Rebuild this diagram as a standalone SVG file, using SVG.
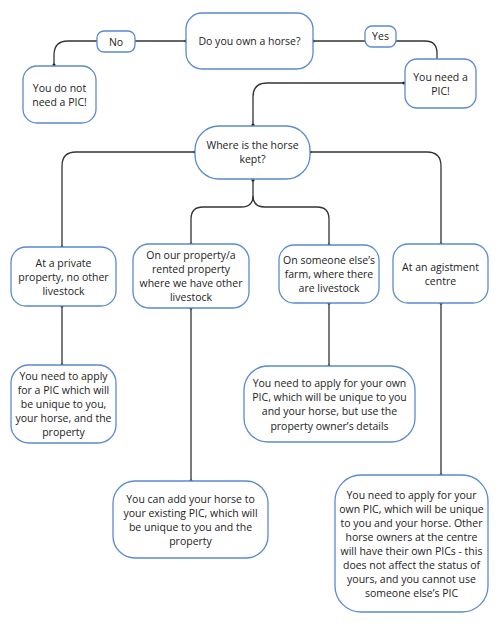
<svg xmlns="http://www.w3.org/2000/svg" width="500" height="636" viewBox="0 0 500 636">
<style>
.box{fill:#fff;stroke:#5b8ad2;stroke-width:1.3}
.t{font-family:"Open Sans","Noto Sans",sans-serif;font-size:10.5px;fill:#222;text-anchor:middle}
.ln{fill:none;stroke:#333;stroke-width:1.3}
.dot{fill:#222}
</style>
<rect width="500" height="636" fill="#fff"/>
<g id="connectors">
<path class="ln" d="M135,41 H186"/>
<path class="ln" d="M97,41 H68 Q54,41 54,55 V65"/>
<path class="ln" d="M313,41 H365"/>
<path class="ln" d="M396,41 H425 Q437,41 437,53 V59"/>
<path class="ln" d="M404,83 H267 Q253,83 253,97 V125"/>
<path class="ln" d="M195,152 H76 Q62,152 62,166 V247"/>
<path class="ln" d="M310,152 H427 Q441,152 441,166 V244"/>
<path class="ln" d="M253,180 V196 Q253,207 241,207 H203 Q191,207 191,219 V244"/>
<path class="ln" d="M253,196 Q253,207 265,207 H317 Q329,207 329,219 V245"/>
<path class="ln" d="M62,306 V365"/>
<path class="ln" d="M191,308 V481"/>
<path class="ln" d="M329,303 V366"/>
<path class="ln" d="M441,303 V475"/>
<g class="dot">
<circle cx="186" cy="41" r="1.6"/><circle cx="54" cy="65" r="1.6"/>
<circle cx="313" cy="41" r="1.6"/><circle cx="404" cy="83" r="1.6"/>
<circle cx="253" cy="125" r="1.6"/><circle cx="195" cy="152" r="1.6"/>
<circle cx="310" cy="152" r="1.6"/><circle cx="253" cy="180" r="1.6"/>
<circle cx="62" cy="247" r="1.6"/><circle cx="191" cy="244" r="1.6"/>
<circle cx="329" cy="245" r="1.6"/><circle cx="441" cy="244" r="1.6"/>
<circle cx="62" cy="306" r="1.6"/><circle cx="62" cy="365" r="1.6"/>
<circle cx="191" cy="308" r="1.6"/><circle cx="191" cy="481" r="1.6"/>
<circle cx="329" cy="303" r="1.6"/><circle cx="329" cy="366" r="1.6"/>
<circle cx="441" cy="303" r="1.6"/><circle cx="441" cy="475" r="1.6"/>
</g>
</g>
<g id="q-own">
<rect class="box" x="186" y="13" width="127" height="56" rx="16"/>
<text class="t" x="249.5" y="45">Do you own a horse?</text>
</g>
<g id="lbl-no">
<rect class="box" x="97" y="31" width="38" height="21" rx="7"/>
<text class="t" x="116" y="45.5">No</text>
</g>
<g id="lbl-yes">
<rect class="box" x="365" y="26" width="31" height="21" rx="7"/>
<text class="t" x="380.5" y="40">Yes</text>
</g>
<g id="no-pic">
<rect class="box" x="23" y="66" width="73" height="57" rx="14"/>
<text class="t" x="59.5" y="92">You do not</text>
<text class="t" x="59.5" y="106">need a PIC!</text>
</g>
<g id="need-pic">
<rect class="box" x="405" y="59" width="71" height="49" rx="12"/>
<text class="t" x="440.5" y="81">You need a</text>
<text class="t" x="440.5" y="95">PIC!</text>
</g>
<g id="q-where">
<rect class="box" x="195" y="126" width="115" height="53" rx="24"/>
<text class="t" x="252.5" y="149">Where is the horse</text>
<text class="t" x="252.5" y="163">kept?</text>
</g>
<g id="private">
<rect class="box" x="11" y="247" width="105" height="59" rx="15"/>
<text class="t" x="63.5" y="267">At a private</text>
<text class="t" x="63.5" y="281">property, no other</text>
<text class="t" x="63.5" y="295">livestock</text>
</g>
<g id="own-property">
<rect class="box" x="133" y="244" width="116" height="64" rx="16"/>
<text class="t" x="191" y="259">On our property/a</text>
<text class="t" x="191" y="273">rented property</text>
<text class="t" x="191" y="287">where we have other</text>
<text class="t" x="191" y="301">livestock</text>
</g>
<g id="else-farm">
<rect class="box" x="279" y="245" width="100" height="58" rx="15"/>
<text class="t" x="329" y="264">On someone else’s</text>
<text class="t" x="329" y="278">farm, where there</text>
<text class="t" x="329" y="292">are livestock</text>
</g>
<g id="agistment">
<rect class="box" x="393" y="244" width="95" height="59" rx="15"/>
<text class="t" x="440.5" y="271">At an agistment</text>
<text class="t" x="440.5" y="285">centre</text>
</g>
<g id="ans-private">
<rect class="box" x="11" y="365" width="105" height="78" rx="18"/>
<text class="t" x="63.5" y="380">You need to apply</text>
<text class="t" x="63.5" y="394">for a PIC which will</text>
<text class="t" x="63.5" y="408">be unique to you,</text>
<text class="t" x="63.5" y="422">your horse, and the</text>
<text class="t" x="63.5" y="436">property</text>
</g>
<g id="ans-own">
<rect class="box" x="113" y="481" width="155" height="77" rx="22"/>
<text class="t" x="190.5" y="503">You can add your horse to</text>
<text class="t" x="190.5" y="517">your existing PIC, which will</text>
<text class="t" x="190.5" y="531">be unique to you and the</text>
<text class="t" x="190.5" y="545">property</text>
</g>
<g id="ans-else">
<rect class="box" x="244" y="366" width="171" height="76" rx="24"/>
<text class="t" x="329.5" y="387">You need to apply for your own</text>
<text class="t" x="329.5" y="401">PIC, which will be unique to you</text>
<text class="t" x="329.5" y="415">and your horse, but use the</text>
<text class="t" x="329.5" y="430">property owner’s details</text>
</g>
<g id="ans-agist">
<rect class="box" x="335" y="475" width="153" height="137" rx="26"/>
<text class="t" x="411.5" y="499">You need to apply for your</text>
<text class="t" x="411.5" y="513">own PIC, which will be unique</text>
<text class="t" x="411.5" y="527">to you and your horse. Other</text>
<text class="t" x="411.5" y="541">horse owners at the centre</text>
<text class="t" x="411.5" y="555">will have their own PICs - this</text>
<text class="t" x="411.5" y="569">does not affect the status of</text>
<text class="t" x="411.5" y="583">yours, and you cannot use</text>
<text class="t" x="411.5" y="597">someone else’s PIC</text>
</g>
</svg>
